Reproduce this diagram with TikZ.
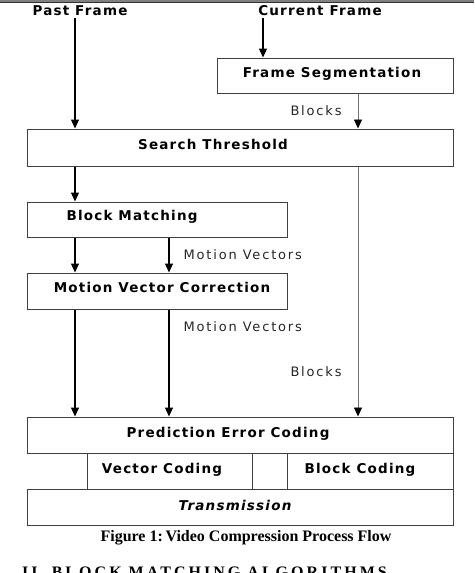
\documentclass[tikz,border=0pt]{standalone}
\usepackage{fontspec}
\setmainfont{Liberation Serif}
\newfontfamily\chartfont[LetterSpace=9]{DejaVu Sans}
\newfontfamily\labelfont[LetterSpace=14]{DejaVu Sans}
\usetikzlibrary{calc,arrows.meta}

\begin{document}
\begin{tikzpicture}[x=1pt,y=-1pt,
    box/.style={draw=black!75, line width=1pt, inner sep=0pt},
    boxtext/.style={font=\chartfont\bfseries\fontsize{13.5}{15}\selectfont, text height=9.5pt, text depth=2.5pt, inner sep=0pt},
    lbl/.style={font=\labelfont\fontsize{13}{15}\selectfont, text=black!85, inner sep=0pt},
    flow/.style={draw, line width=1.3pt, -{Triangle[length=9pt,width=8pt]}},
    side/.style={draw=black!55, line width=0.9pt, -{Triangle[length=9pt,width=8pt,black]}},
    plain/.style={draw, line width=1.3pt}]
    \useasboundingbox (0,0) rectangle (474,573);
    % page rule at the top
    \fill[black!50] (0,0) rectangle (474,3);
    \draw[black!80, line width=0.8pt] (0,2.6) -- (474,2.6);

    % columns of the flow
    \coordinate (colA) at (75,0);
    \coordinate (colB) at (169,0);
    \coordinate (colC) at (263,0);
    \coordinate (colD) at (358,0);

    \node[boxtext] at (80,12) (PF) {Past Frame};
    \node[boxtext] at (320,12) (CF) {Current Frame};

    \node[box, minimum width=236pt, minimum height=35pt, label={[boxtext, xshift=-3pt, yshift=1.5pt]center:Frame Segmentation}] at (335,75.5) (FS) {};
    \node[box, minimum width=426pt, minimum height=37pt, label={[boxtext, xshift=-27pt, yshift=1.5pt]center:Search Threshold}] at (240,147.5) (ST) {};
    \node[box, minimum width=260pt, minimum height=35pt, label={[boxtext, xshift=-25pt, yshift=2.5pt]center:Block Matching}] at (157,219.5) (BM) {};
    \node[box, minimum width=260pt, minimum height=36pt, label={[boxtext, xshift=5pt, yshift=2pt]center:Motion Vector Correction}] at (157,291) (MVC) {};
    \node[box, minimum width=426pt, minimum height=36pt, label={[boxtext, xshift=-12pt, yshift=1pt]center:Prediction Error Coding}] at (240,435) (PEC) {};
    \node[box, minimum width=165pt, minimum height=36pt, label={[boxtext, xshift=-7.5pt, yshift=1pt]center:Vector Coding}] at (169.5,471) (VC) {};
    \node[box, minimum width=35pt, minimum height=36pt] at (269.5,471) (GAP) {};
    \node[box, minimum width=166pt, minimum height=36pt, label={[boxtext, xshift=-10pt, yshift=1pt]center:Block Coding}] at (370,471) (BC) {};
    \node[box, minimum width=426pt, minimum height=36pt, label={[boxtext, font=\chartfont\bfseries\itshape\fontsize{13.5}{15}\selectfont, xshift=-5pt, yshift=0pt]center:Transmission}] at (240,507) (TR) {};

    \draw[flow] (colA |- PF.south) -- (colA |- ST.north);
    \draw[flow] (colC |- CF.south) -- (colC |- FS.north);
    \draw[side] (colD |- FS.south) -- (colD |- ST.north) node[lbl, midway, left=16pt] (bl1) {Blocks};
    \draw[flow] (colA |- ST.south) -- (colA |- BM.north);
    \draw[side] (colD |- ST.south) -- (colD |- PEC.north) node[lbl, pos=0.82, left=16pt] (bl2) {Blocks};
    \draw[flow] (colA |- BM.south) -- (colA |- MVC.north);
    \draw[flow] (colB |- BM.south) -- (colB |- MVC.north) node[lbl, midway, right=14pt] (mv1) {Motion Vectors};
    \draw[flow] (colA |- MVC.south) -- (colA |- PEC.north);
    \draw[flow] (colB |- MVC.south) -- (colB |- PEC.north) node[lbl, pos=0.16, right=14pt] (mv2) {Motion Vectors};

    \node[font=\bfseries\fontsize{16}{18}\selectfont, inner sep=0pt] at (246,538) (CAP) {Figure 1:\,Video Compression Process Flow};
    \node[font=\bfseries\addfontfeature{LetterSpace=19}\fontsize{16}{18}\selectfont, inner sep=0pt, anchor=base west] at (22,577) (SEC) {II. BLOCK MATCHING ALGORITHMS};
\end{tikzpicture}
\end{document}
